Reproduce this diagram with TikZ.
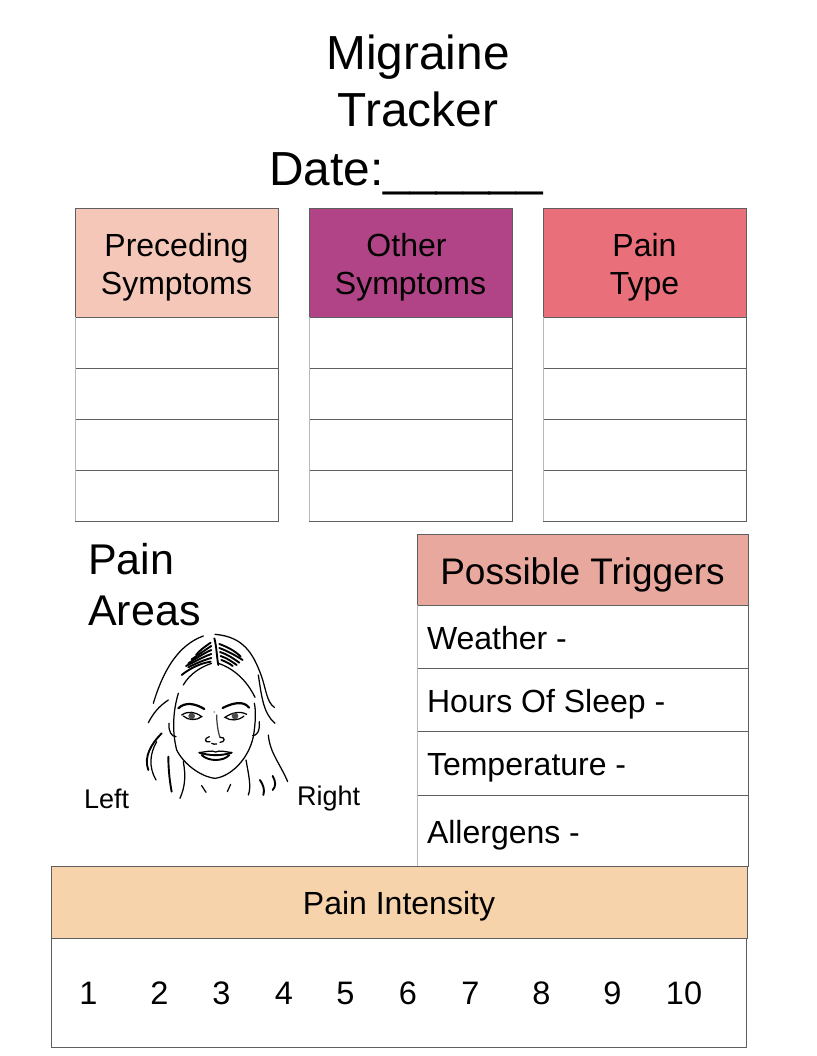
\documentclass[tikz,border=0pt]{standalone}
\usepackage{fontspec}
\setmainfont{Liberation Sans}
\definecolor{precedingc}{HTML}{F4C7B8}
\definecolor{otherc}{HTML}{B04486}
\definecolor{painc}{HTML}{E96F7B}
\definecolor{triggerc}{HTML}{E9A89D}
\definecolor{intensityc}{HTML}{F7D3AB}
\definecolor{linec}{HTML}{5F5F5F}
\tikzset{
  titletext/.style={anchor=base,inner sep=0pt,font=\fontsize{47.8}{57}\selectfont},
  areatext/.style={anchor=base west,inner sep=0pt,font=\fontsize{43}{50}\selectfont},
  sidetext/.style={anchor=base west,inner sep=0pt,font=\fontsize{27}{32}\selectfont},
  headcell/.style={draw=linec,anchor=north west,inner sep=0pt,outer sep=0pt,minimum width=203,minimum height=109,align=center,text height=71,text depth=7,font=\fontsize{32}{38}\selectfont},
  rowcell/.style={draw=linec,anchor=north west,inner sep=0pt,outer sep=0pt,minimum width=203,minimum height=51},
  triggercell/.style={draw=linec,anchor=north west,outer sep=0pt,inner xsep=10,inner ysep=0pt,text width=311,minimum height=63,text height=25,text depth=0pt,align=flush left,font=\fontsize{32}{38}\selectfont},
  numtext/.style={inner sep=0pt,font=\fontsize{32.5}{38}\selectfont},
  lightline/.style={draw=black!28,line width=0.9},
  facestroke/.style={line width=1.25,line cap=round},
  hairstroke/.style={line width=1.9,line cap=round},
  browstroke/.style={line width=2.2,line cap=round}
}
\begin{document}
\begin{tikzpicture}[x=1pt,y=-1pt]
\useasboundingbox[fill=white] (0,0) rectangle (816,1056);
% title
\node[titletext] (title1) at (418,70) {Migraine};
\node[titletext] (title2) at (418,127) {Tracker};
\node[titletext,anchor=base west] (date) at (269,186) {Date:\_\_\_\_\_\_};
% first column
\node[headcell,fill=precedingc] (p0) at (75,208) {Preceding\\Symptoms};
\node[rowcell] (p1) at (75,317) {};
\node[rowcell] (p2) at (75,368) {};
\node[rowcell] (p3) at (75,419) {};
\node[rowcell] (p4) at (75,470) {};
% second column
\node[headcell,fill=otherc] (o0) at (309,208) {Other\hspace*{8pt}\\Symptoms};
\node[rowcell] (o1) at (309,317) {};
\node[rowcell] (o2) at (309,368) {};
\node[rowcell] (o3) at (309,419) {};
\node[rowcell] (o4) at (309,470) {};
% third column
\node[headcell,fill=painc] (t0) at (543,208) {Pain\\Type};
\node[rowcell] (t1) at (543,317) {};
\node[rowcell] (t2) at (543,368) {};
\node[rowcell] (t3) at (543,419) {};
\node[rowcell] (t4) at (543,470) {};
% lighter left sides
\path[]
    (p1.north west) [lightline] edge (p4.south west)
    (o1.north west) [lightline] edge (o4.south west)
    (t1.north west) [lightline] edge (t4.south west);
% triggers
\node[triggercell,fill=triggerc,minimum height=71,text height=29,font=\fontsize{37}{44}\selectfont,align=flush center] (g0) at (417,534) {Possible Triggers};
\node[triggercell] (g1) at (417,605) {Weather -};
\node[triggercell] (g2) at (417,668) {Hours Of Sleep -};
\node[triggercell,minimum height=64] (g3) at (417,731) {Temperature -};
\node[triggercell,minimum height=71] (g4) at (417,795) {Allergens -};
\path[]
    (g1.north west) [lightline] edge (g4.south west);
% pain areas
\node[areatext] (area1) at (88,574) {Pain};
\node[areatext] (area2) at (88,625) {Areas};
\node[sidetext] (left) at (84,808) {Left};
\node[sidetext] (right) at (297,805) {Right};
% the face
\begin{scope}[shift={(120,620)},x=0.3333pt,y=-0.3333pt]
\draw[facestroke] (250,48) .. controls (175,75) and (130,150) .. (100,250);
\draw[facestroke] (285,43) .. controls (370,50) and (400,100) .. (425,170) .. controls (440,215) and (440,245) .. (463,262);
\draw[facestroke] (415,165) .. controls (425,230) and (430,280) .. (465,310);
\draw[facestroke] (145,240) .. controls (115,260) and (100,280) .. (85,308);
\draw[hairstroke] (125,340) .. controls (95,370) and (70,410) .. (85,450);
\draw[facestroke] (110,365) .. controls (90,400) and (85,440) .. (108,480);
\draw[hairstroke] (145,410) .. controls (145,450) and (150,490) .. (155,515);
\draw[facestroke] (190,425) .. controls (198,470) and (195,500) .. (180,535);
\draw[facestroke] (378,420) .. controls (385,460) and (395,500) .. (385,525);
\draw[facestroke] (445,345) .. controls (450,400) and (480,430) .. (503,485);
\draw[hairstroke] (420,480) .. controls (430,495) and (435,510) .. (430,525);
\draw[hairstroke] (458,468) .. controls (468,485) and (468,500) .. (458,510);
\draw[facestroke] (245,497) -- (258,517);
\draw[facestroke] (332,493) -- (322,515);
% hairline and parting
\draw[facestroke] (190,195) .. controls (210,160) and (245,140) .. (275,130);
\draw[facestroke] (295,130) .. controls (340,145) and (380,180) .. (405,232);
\draw[hairstroke] (283,55) .. controls (290,80) and (290,110) .. (295,135);
\draw[hairstroke] (272,68) .. controls (255,80) and (240,90) .. (228,105);
\draw[hairstroke] (274,78) .. controls (255,90) and (235,105) .. (215,118);
\draw[hairstroke] (274,90) .. controls (250,100) and (225,118) .. (205,130);
\draw[hairstroke] (274,102) .. controls (250,110) and (225,125) .. (198,138);
\draw[hairstroke] (274,114) .. controls (250,120) and (225,132) .. (205,142);
\draw[hairstroke] (272,125) .. controls (240,130) and (210,145) .. (185,165);
\draw[hairstroke] (298,72) .. controls (320,80) and (345,92) .. (362,110);
\draw[hairstroke] (298,84) .. controls (320,92) and (345,105) .. (368,120);
\draw[hairstroke] (300,96) .. controls (320,102) and (340,115) .. (358,128);
\draw[hairstroke] (302,108) .. controls (320,114) and (335,124) .. (350,135);
\draw[hairstroke] (304,120) .. controls (315,124) and (328,130) .. (338,138);
% face outline and ears
\draw[facestroke] (175,220) .. controls (160,270) and (155,330) .. (170,390) .. controls (190,430) and (240,470) .. (285,475) .. controls (330,470) and (385,420) .. (400,350) .. controls (407,310) and (408,270) .. (403,250);
\draw[facestroke] (147,310) .. controls (145,335) and (155,350) .. (168,350);
\draw[facestroke] (418,305) .. controls (420,335) and (410,347) .. (398,347);
% brows and eyes
\draw[browstroke] (175,265) .. controls (195,245) and (225,250) .. (253,267);
\draw[browstroke] (308,264) .. controls (335,250) and (370,240) .. (387,263);
\draw[facestroke] (185,285) .. controls (205,272) and (225,275) .. (245,290) .. controls (230,302) and (205,302) .. (190,288);
\draw[facestroke] (380,283) .. controls (360,272) and (335,278) .. (315,292) .. controls (330,303) and (355,303) .. (372,288);
\fill[black!70] (215,288) circle (10);
\fill[black!70] (345,288) circle (10);
% nose and mouth
\fill[black!45] (283,276) circle (2.5);
\draw[facestroke,black!75] (290,285) .. controls (290,310) and (295,340) .. (300,352);
\draw[facestroke] (268,350) .. controls (250,355) and (255,370) .. (270,365);
\draw[facestroke] (300,352) .. controls (318,350) and (315,368) .. (300,367);
\draw[facestroke] (275,370) .. controls (280,373) and (285,373) .. (290,372);
\draw[facestroke] (238,398) .. controls (260,395) and (275,390) .. (287,396) .. controls (300,390) and (315,395) .. (335,398);
\draw[hairstroke] (238,398) .. controls (270,408) and (305,408) .. (335,398);
\draw[hairstroke] (245,405) .. controls (265,425) and (310,425) .. (328,405);
\end{scope}
% pain intensity
\node[rowcell,minimum width=695,minimum height=109] (i1) at (51,938) {};
\node[rowcell,fill=intensityc,minimum width=696,minimum height=72,text height=24,text depth=0pt,font=\fontsize{32}{40}\selectfont] (i0) at (51,866) {Pain Intensity};
\node[numtext] (n1) at (88.5,993) {1};
\node[numtext] (n2) at (159.5,993) {2};
\node[numtext] (n3) at (221.5,993) {3};
\node[numtext] (n4) at (284,993) {4};
\node[numtext] (n5) at (345.5,993) {5};
\node[numtext] (n6) at (408,993) {6};
\node[numtext] (n7) at (470.5,993) {7};
\node[numtext] (n8) at (541.5,993) {8};
\node[numtext] (n9) at (612.5,993) {9};
\node[numtext] (n10) at (684,993) {10};
\end{tikzpicture}
\end{document}
